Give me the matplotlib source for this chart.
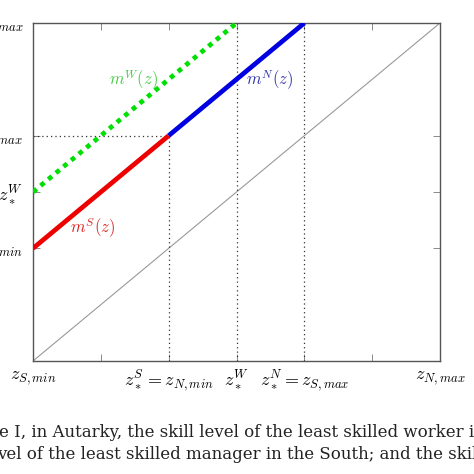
import matplotlib
matplotlib.use("Agg")
import matplotlib.pyplot as plt

plt.rcParams['mathtext.fontset'] = 'cm'

# --- data ---
x_tick_pos = [0, 1/6, 1/3, 1/2, 2/3, 5/6, 1]
x_tick_labels = [r'$z_{S,min}$', '', r'$z_*^S = z_{N,min}$', r'$z_*^W$',
                 r'$z_*^N = z_{S,max}$', '', r'$z_{N,max}$']
y_tick_pos = [1/3, 1/2, 2/3, 1]
y_tick_labels = [r'$z_{N,min}$', r'$z_*^W$', r'$z_{S,max}$', r'$z_{N,max}$']

mS_z = [0, 1/3]
mS_m = [1/3, 2/3]
mN_z = [1/3, 2/3]
mN_m = [2/3, 1]
mW_z = [0, 1/2]
mW_m = [1/2, 1]
diag = [0, 1]

guide_h_z = [0, 1/3]
guide_h_m = [2/3, 2/3]
guide_v_z = [1/3, 1/2, 2/3]
guide_v_top = [2/3, 1, 1]

caption1 = "e I, in Autarky, the skill level of the least skilled worker i"
caption2 = "vel of the least skilled manager in the South; and the skil"

W = H = 474
fig = plt.figure(figsize=(W/100, H/100), dpi=100)
ax = fig.add_axes([33/W, (H-361)/H, 407/W, 338/H])
ax.set_xlim(0, 1)
ax.set_ylim(0, 1)

ax.plot(diag, diag, color='#999999', lw=0.8, zorder=2)
ax.plot(guide_h_z, guide_h_m, color='#333333', lw=0.9, ls=(0, (1, 2.5)), zorder=2)
for xv, top in zip(guide_v_z, guide_v_top):
    ax.plot([xv, xv], [0, top], color='#333333', lw=0.9, ls=(0, (1, 2.5)), zorder=2)

ax.plot(mS_z, mS_m, color='#ee0000', lw=3.4, solid_capstyle='butt', zorder=3)
ax.plot(mN_z, mN_m, color='#0000e0', lw=3.4, solid_capstyle='butt', zorder=3)
ax.plot(mW_z, mW_m, color='#00e000', lw=3.4, ls=(0, (1, 1.1)), dash_capstyle='butt', zorder=3)

ax.text(0.246, 0.831, r'$m^W(z)$', color='#44cc44', fontsize=12, ha='center', va='center')
ax.text(0.582, 0.831, r'$m^N(z)$', color='#3333aa', fontsize=12, ha='center', va='center')
ax.text(0.147, 0.393, r'$m^S(z)$', color='#dd2222', fontsize=12, ha='center', va='center')

ax.set_xticks(x_tick_pos)
ax.set_xticklabels(x_tick_labels, fontsize=13)
ax.set_yticks(y_tick_pos)
ax.set_yticklabels(y_tick_labels, fontsize=13)
ax.tick_params(direction='in', length=5, width=0.6, color='#777777',
               top=True, right=True, pad=7)
ax.tick_params(axis='x', pad=6)
for s in ax.spines.values():
    s.set_color('#555555')
    s.set_linewidth(1.0)

fig.text(-1/W, (H-437)/H, caption1, fontsize=12, family='DejaVu Serif',
         color='#222222', va='baseline', ha='left')
fig.text(-3/W, (H-459)/H, caption2, fontsize=12, family='DejaVu Serif',
         color='#222222', va='baseline', ha='left')

fig.savefig('out.png', dpi=100)
